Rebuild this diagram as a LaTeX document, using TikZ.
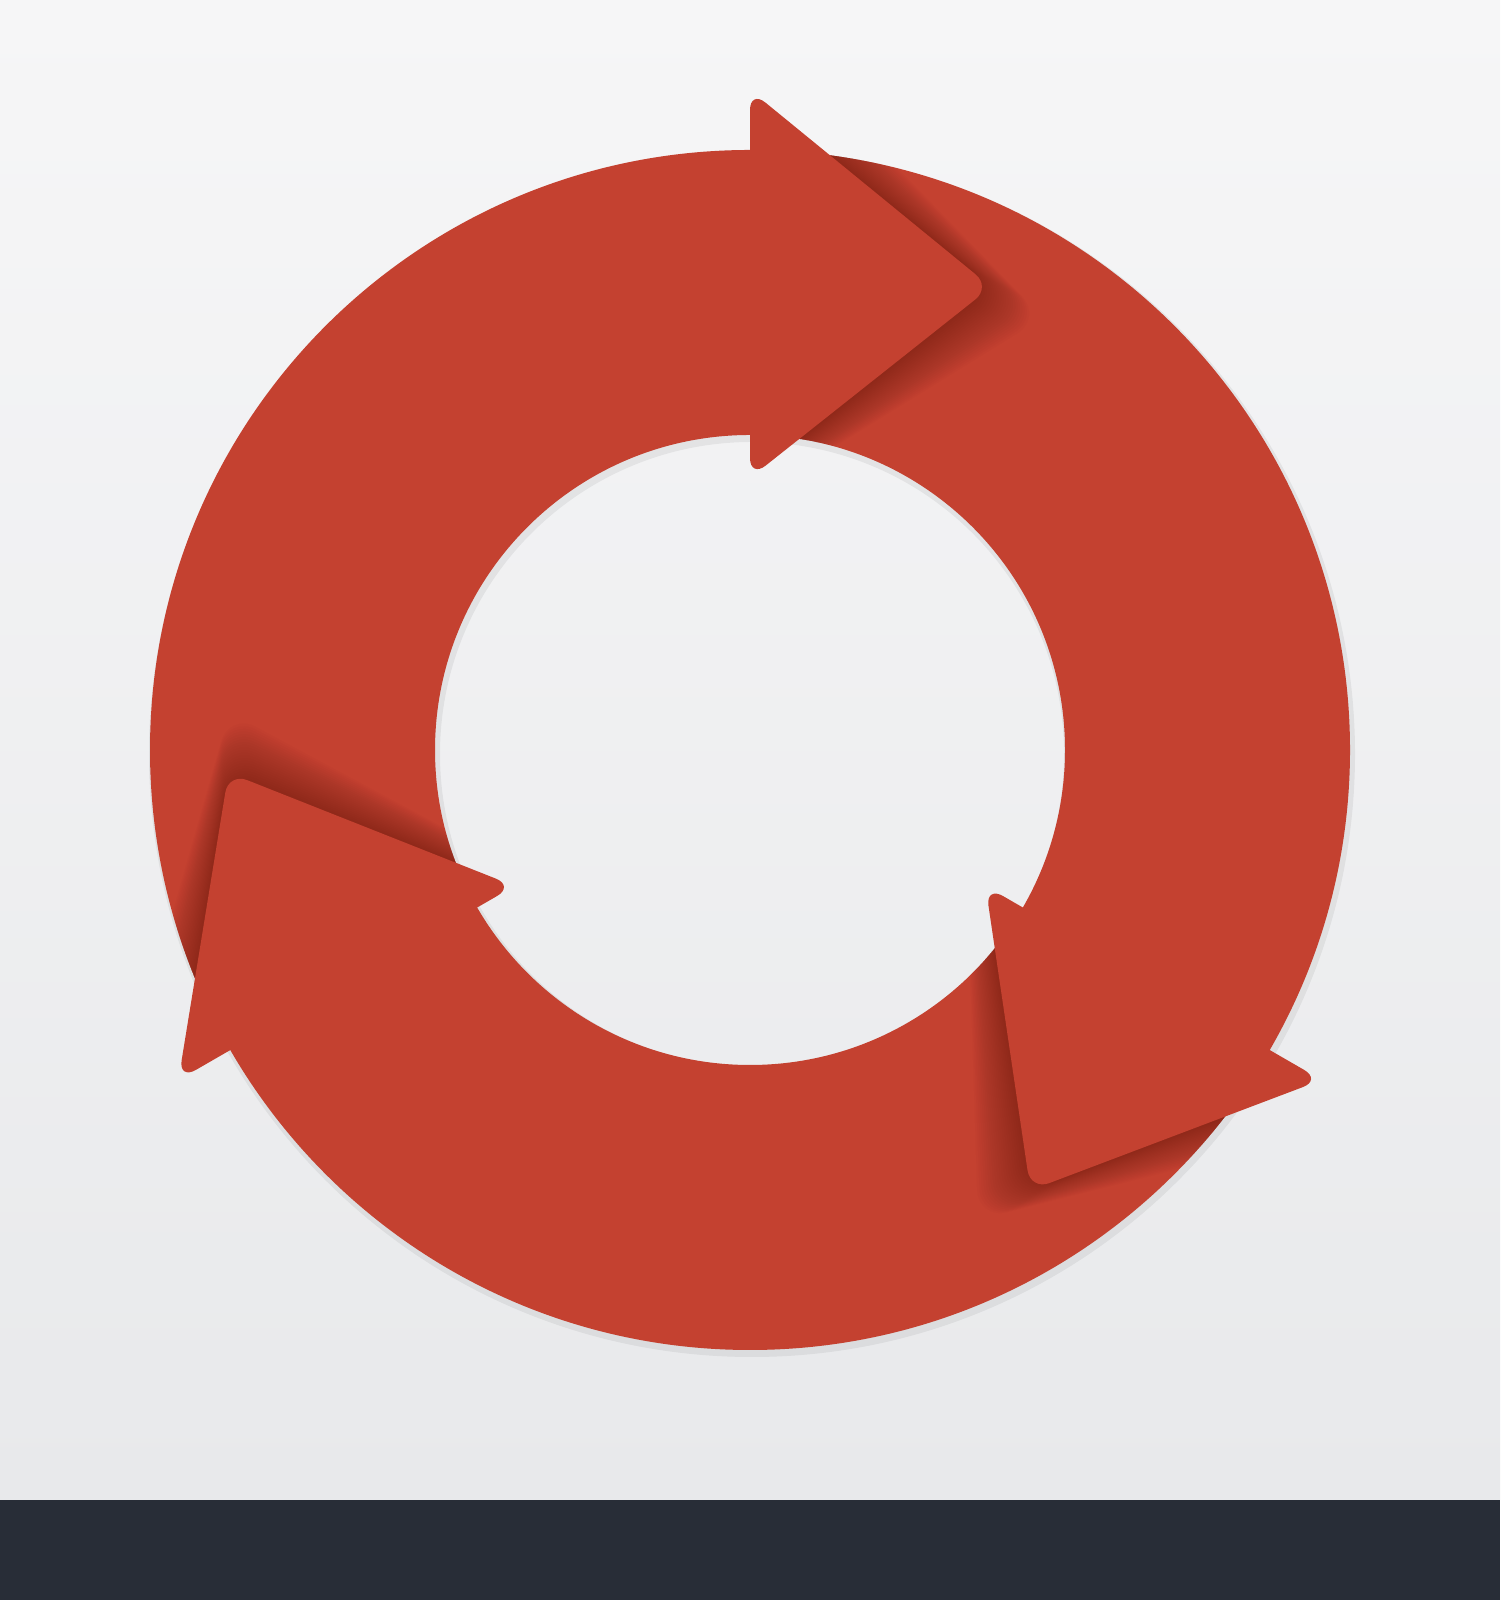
\documentclass[tikz,border=0pt]{standalone}
\usetikzlibrary{calc}
\definecolor{ringred}{RGB}{196,65,48}
\definecolor{shadred}{RGB}{110,30,20}
\definecolor{bgtop}{RGB}{246,246,247}
\definecolor{bgbot}{RGB}{232,233,235}
\definecolor{bandcol}{RGB}{40,45,55}
\newcommand\headpath[1]{($(C)+({#1}:4.66)$) -- ($(C)+({#1}:6.6)$) -- ($(C)+({#1-27.5}:5.22)$) -- ($(C)+({#1}:2.72)$) -- cycle}
\tikzset{
  headfill/.style={fill=ringred, rounded corners=0.2cm},
  headshadow/.style={fill=shadred, opacity=0.03, rounded corners=0.3cm},
}
\begin{document}
\begin{tikzpicture}
\useasboundingbox (0,0) rectangle (15,16);
\shade[top color=bgtop, bottom color=bgbot] (0,1) rectangle (15,16);
\fill[bandcol] (0,0) rectangle (15,1);
\coordinate (C) at (7.5,8.5);
% faint ring outline/shadow on the background
\fill[black, opacity=0.06, even odd rule] ($(C)+(0.02,-0.04)$) circle (6.03) ($(C)+(0.02,-0.04)$) circle (3.12);
% ring
\fill[ringred, even odd rule] (C) circle (6.0) (C) circle (3.15);
% three arrow heads with soft shadows
\foreach \b in {90,-30,210}{
  \begin{scope}[even odd rule]
    \clip (C) circle (6.0) (C) circle (3.15);
    \foreach \k in {1,...,22}{
      \fill[headshadow] \headpath{\b-0.3*\k};
    }
  \end{scope}
  \fill[headfill] \headpath{\b};
}
\end{tikzpicture}
\end{document}
